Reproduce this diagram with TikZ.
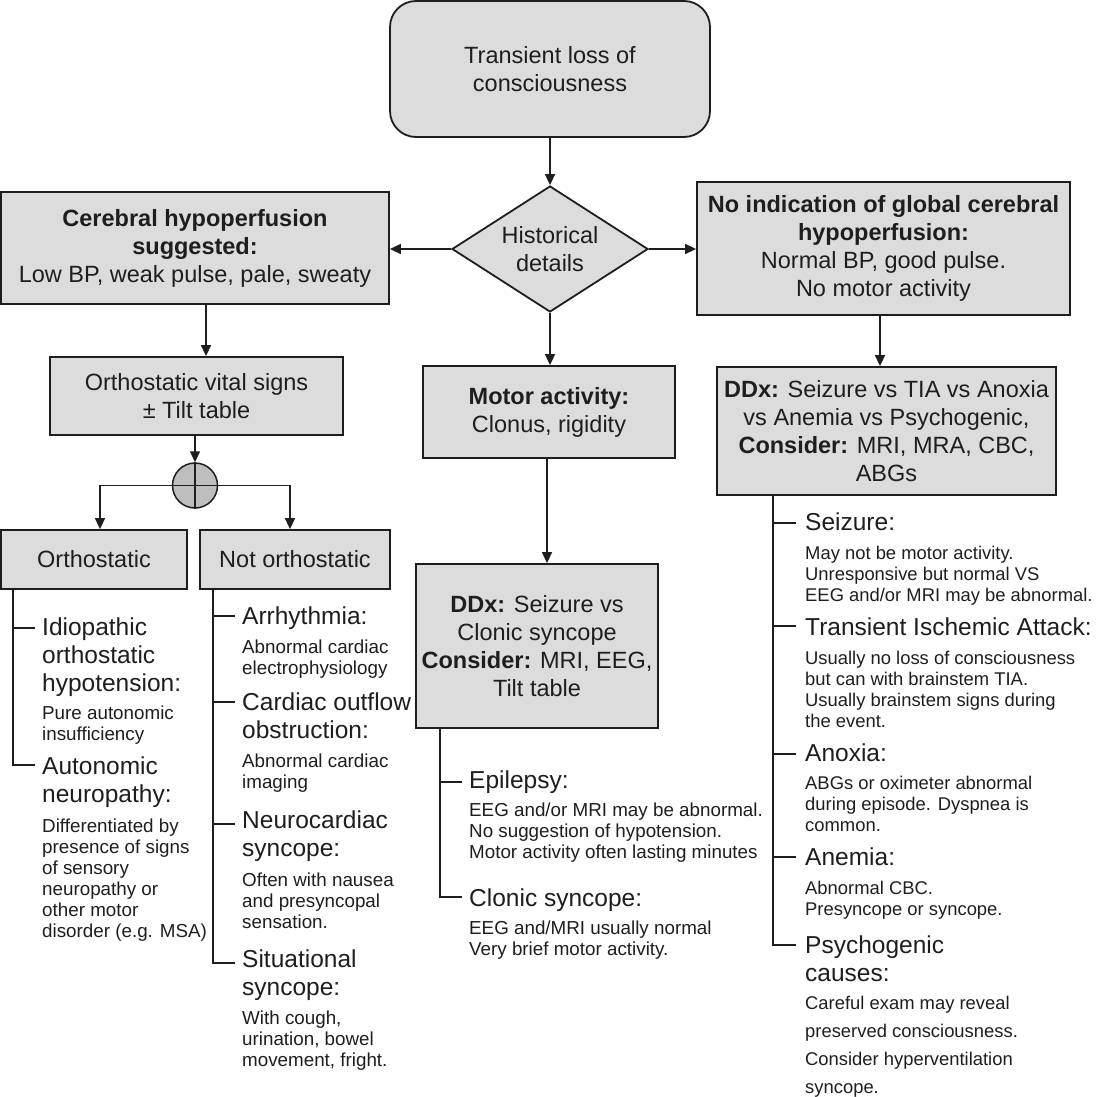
\documentclass[tikz,border=0pt]{standalone}
\usepackage{fontspec}
\setmainfont{Liberation Sans}
\usetikzlibrary{shapes.geometric,arrows.meta}
\definecolor{boxfill}{HTML}{DCDCDC}
\definecolor{circfill}{HTML}{BEBEBE}
\definecolor{ink}{HTML}{1E1E1E}
\begin{document}
\begin{tikzpicture}[x=1pt,y=-1pt,
  box/.style={draw=ink, line width=1.8pt, fill=boxfill, align=center, inner sep=0pt, text=ink,
    font=\fontsize{23.5}{28}\selectfont},
  arr/.style={draw=ink, line width=1.5pt, -{Triangle[length=11pt,width=10pt]}},
  ln/.style={draw=ink, line width=1.5pt},
  hd/.style={anchor=north west, inner sep=0pt, align=left, text=ink, font=\fontsize{24.5}{28}\selectfont},
  ds/.style={anchor=north west, inner sep=0pt, align=left, text=ink, font=\fontsize{18.8}{21}\selectfont},
  dsr/.style={ds, font=\fontsize{18.4}{21}\selectfont}]
\useasboundingbox (0,0) rectangle (1097,1097);

% boxes
\node[box, rounded corners=26pt, minimum width=320pt, minimum height=136pt] (top) at (550,69) {Transient loss of\\consciousness};
\node[diamond, draw=ink, line width=1.8pt, fill=boxfill, minimum width=196pt, minimum height=126pt, inner sep=0pt] (hist) at (550,249) {};
\node[align=center, text=ink, font=\fontsize{23.5}{28}\selectfont] (histtxt) at (hist.center) {Historical\\details};
\node[box, minimum width=388pt, minimum height=112pt] (cereb) at (195,248) {\textbf{Cerebral hypoperfusion}\\\textbf{suggested:}\\Low BP, weak pulse, pale, sweaty};
\node[box, minimum width=373pt, minimum height=133pt] (noind) at (883.5,248.5) {\textbf{No indication of global cerebral}\\\textbf{hypoperfusion:}\\Normal BP, good pulse.\\No motor activity};
\node[box, minimum width=293pt, minimum height=78pt] (vital) at (196.5,396) {Orthostatic vital signs\\± Tilt table};
\node[circle, draw=ink, line width=1.5pt, fill=circfill, minimum size=45pt, inner sep=0pt] (circ) at (195,485.5) {};
\node[box, minimum width=186pt, minimum height=59pt] (orth) at (94,559.5) {Orthostatic};
\node[box, minimum width=190pt, minimum height=59pt] (notorth) at (295,559.5) {Not orthostatic};
\node[box, minimum width=252pt, minimum height=92pt] (motor) at (549,412) {\textbf{Motor activity:}\\Clonus, rigidity};
\node[box, minimum width=242pt, minimum height=164pt] (ddxm) at (537,646) {\textbf{DDx:} Seizure vs\\Clonic syncope\\\textbf{Consider:} MRI, EEG,\\Tilt table};
\node[box, minimum width=339pt, minimum height=128pt] (ddxr) at (886.5,431) {\textbf{DDx:} Seizure vs TIA vs Anoxia\\vs Anemia vs Psychogenic,\\\textbf{Consider:} MRI, MRA, CBC,\\ABGs};

% connectors
\draw[arr] (top.south) -- (hist.north);
\draw[arr] (hist.west) -- (hist.west -| cereb.east);
\draw[arr] (hist.east) -- (hist.east -| noind.west);
\draw[arr] ([xshift=11pt]cereb.south) -- ([xshift=11pt]cereb.south |- vital.north);
\draw[arr] (circ.north |- vital.south) -- (circ.north);
\draw[ln] (circ.north) -- (circ.south);
\draw[ln] (circ.west) -- (circ.east);
\draw[arr] (circ.west) -| ([xshift=6pt]orth.north);
\draw[arr] (circ.east) -| ([xshift=-5pt]notorth.north);
\draw[arr] (hist.south) -- (hist.south |- motor.north);
\draw[arr] ([xshift=-2pt]motor.south) -- ([xshift=-2pt]motor.south |- ddxm.north);
\draw[arr] ([xshift=-3.5pt]noind.south) -- ([xshift=-3.5pt]noind.south |- ddxr.north);

% tree coordinates
\coordinate (oa) at (35,628);
\coordinate (ob) at (35,765);
\coordinate (na) at (235,616);
\coordinate (nb) at (235,702);
\coordinate (nc) at (235,824);
\coordinate (nd) at (235,963);
\coordinate (ma) at (462,782);
\coordinate (mb) at (462,897);
\coordinate (ra) at (796,523);
\coordinate (rb) at (796,626);
\coordinate (rc) at (796,754);
\coordinate (rd) at (796,857);
\coordinate (re) at (796,945);

\draw[ln] ([xshift=-81pt]orth.south) |- (ob);
\draw[ln] ([xshift=-81pt]orth.south |- oa) -- (oa);
\draw[ln] ([xshift=-82pt]notorth.south) |- (nd);
\draw[ln] ([xshift=-82pt]notorth.south |- na) -- (na);
\draw[ln] ([xshift=-82pt]notorth.south |- nb) -- (nb);
\draw[ln] ([xshift=-82pt]notorth.south |- nc) -- (nc);
\draw[ln] ([xshift=-97pt]ddxm.south) |- (mb);
\draw[ln] ([xshift=-97pt]ddxm.south |- ma) -- (ma);
\draw[ln] ([xshift=-113.5pt]ddxr.south) |- (re);
\draw[ln] ([xshift=-113.5pt]ddxr.south |- ra) -- (ra);
\draw[ln] ([xshift=-113.5pt]ddxr.south |- rb) -- (rb);
\draw[ln] ([xshift=-113.5pt]ddxr.south |- rc) -- (rc);
\draw[ln] ([xshift=-113.5pt]ddxr.south |- rd) -- (rd);

% orthostatic branch
\node[hd] (idioh) at (42,615.4) {\strut Idiopathic\\orthostatic\\hypotension:};
\node[ds] (idiod) at (42,704.3) {\strut Pure autonomic\\insufficiency};
\node[hd] (autoh) at (42,754.4) {\strut Autonomic\\neuropathy:};
\node[ds] (autod) at (42,817.3) {\strut Differentiated by\\presence of signs\\of sensory\\neuropathy or\\other motor\\disorder (e.g. MSA)};

% not orthostatic branch
\node[hd] (arrh) at (242,604.4) {\strut Arrhythmia:};
\node[ds] (arrd) at (242,638.3) {\strut Abnormal cardiac\\electrophysiology};
\node[hd] (outh) at (242,690.4) {\strut Cardiac outflow\\obstruction:};
\node[ds] (outd) at (242,752.3) {\strut Abnormal cardiac\\imaging};
\node[hd] (neuh) at (242,808.4) {\strut Neurocardiac\\syncope:};
\node[ds] (neud) at (242,871.3) {\strut Often with nausea\\and presyncopal\\sensation.};
\node[hd] (sith) at (242,947.4) {\strut Situational\\syncope:};
\node[ds] (sitd) at (242,1009.3) {\strut With cough,\\urination, bowel\\movement, fright.};

% middle branch
\node[hd] (epih) at (469,768.4) {\strut Epilepsy:};
\node[ds] (epid) at (469,801.3) {\strut EEG and/or MRI may be abnormal.\\No suggestion of hypotension.\\Motor activity often lasting minutes};
\node[hd] (clonh) at (469,886.4) {\strut Clonic syncope:};
\node[ds] (clond) at (469,919.3) {\strut EEG and/MRI usually normal\\Very brief motor activity.};

% right branch
\node[hd] (seih) at (805,510.4) {\strut Seizure:};
\node[dsr] (seid) at (805,544.3) {\strut May not be motor activity.\\Unresponsive but normal VS\\EEG and/or MRI may be abnormal.};
\node[hd] (tiah) at (805,615.4) {\strut Transient Ischemic Attack:};
\node[dsr] (tiad) at (805,649.3) {\strut Usually no loss of consciousness\\but can with brainstem TIA.\\Usually brainstem signs during\\the event.};
\node[hd] (anoh) at (805,741.4) {\strut Anoxia:};
\node[dsr] (anod) at (805,774.3) {\strut ABGs or oximeter abnormal\\during episode. Dyspnea is\\common.};
\node[hd] (aneh) at (805,845.4) {\strut Anemia:};
\node[dsr] (aned) at (805,879.3) {\strut Abnormal CBC.\\Presyncope or syncope.};
\node[hd] (psyh) at (805,933.4) {\strut Psychogenic\\causes:};
\node[dsr, font=\fontsize{18.4}{28}\selectfont] (psyd) at (805,989.4) {\strut Careful exam may reveal\\preserved consciousness.\\Consider hyperventilation\\syncope.};
\end{tikzpicture}
\end{document}
